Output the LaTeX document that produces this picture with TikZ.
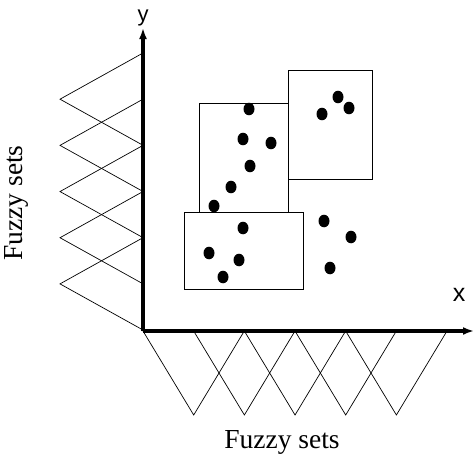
\documentclass[tikz,border=0pt]{standalone}
\usepackage{fontspec}
\setmainfont{Liberation Serif}
\newfontfamily\axisfont{Liberation Sans}
\usetikzlibrary{arrows.meta}
\begin{document}
\begin{tikzpicture}[x=1pt, y=-1pt]
	\useasboundingbox (0, 0) rectangle (474, 459);
	\coordinate (o) at (143, 331);
	\coordinate (xend) at (474, 331);
	\coordinate (yend) at (143, 28);
	% fuzzy sets on both axes
	\foreach \i in {0,...,4} {
		\draw[line width=0.7pt] (143, 53+46.17*\i) -- (60, 99.2+46.17*\i) -- (143, 145.3+46.17*\i);
		\draw[line width=0.7pt] (143+50.67*\i, 331) -- (193.7+50.67*\i, 415) -- (244.3+50.67*\i, 331);
	}
	\draw[line width=3.2pt, -{Latex[length=11pt, width=8pt]}] (o) -- (yend);
	\draw[line width=3.2pt, -{Latex[length=11pt, width=8pt]}] (o) -- (xend);
	\node[font=\axisfont\fontsize{22}{26}\selectfont, inner sep=0pt, anchor=base] (ylab) at (143, 21) {y};
	\node[font=\axisfont\fontsize{25}{30}\selectfont] (xlab) at (459, 295) {x};
	\node[font=\fontsize{27.5}{30}\selectfont, rotate=90] (fy) at (16, 203) {Fuzzy sets};
	\node[font=\fontsize{27.5}{30}\selectfont] (fx) at (282, 442) {Fuzzy sets};
	% clusters
	\draw[line width=0.9pt] (199, 103) rectangle (288, 212);
	\draw[line width=0.9pt] (288, 70) rectangle (372, 179);
	\draw[line width=0.9pt, fill=white] (184, 212) rectangle (303, 289);
	\foreach \p in {(249,109), (243,139), (271,143), (250,166), (231,187), (214,206), (243,228), (209,253), (239,260), (223,277), (322,114), (338,97), (349,108), (324,221), (351,237), (330,268)} {
		\fill \p ellipse (5.5pt and 6.3pt);
	}
\end{tikzpicture}
\end{document}
